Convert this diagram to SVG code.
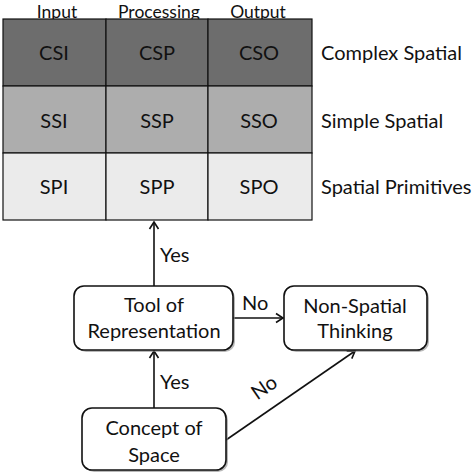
<svg xmlns="http://www.w3.org/2000/svg" width="474" height="474" viewBox="0 0 474 474">
<style>
text{font-family:"Lato","Open Sans","Liberation Sans",sans-serif;font-size:20px;fill:#111}
.c{text-anchor:middle}
.hd{font-size:17.5px}
.box{fill:#fff;stroke:#111;stroke-width:1.6}
.sh{fill:#888;opacity:0.6}
.cell{stroke:#111;stroke-width:1.2}
.ln{stroke:#111;stroke-width:1.6;fill:none}
</style>
<defs>
<marker id="ah" markerWidth="12" markerHeight="12" refX="10" refY="6" orient="auto" markerUnits="userSpaceOnUse">
<path d="M3,1.5 L10,6 L3,10.5" fill="none" stroke="#111" stroke-width="1.6"/>
</marker>
</defs>
<rect width="474" height="474" fill="#fff"/>
<g id="headers">
<text class="c hd" x="57" y="17.5">Input</text>
<text class="c hd" x="159" y="17.5">Processing</text>
<text class="c hd" x="258" y="17.5">Output</text>
</g>
<g id="grid">
<g id="row-complex">
<rect class="cell" x="3" y="19" width="103" height="67" fill="#6d6d6d"/>
<rect class="cell" x="106" y="19" width="102" height="67" fill="#6d6d6d"/>
<rect class="cell" x="208" y="19" width="104" height="67" fill="#6d6d6d"/>
<text class="c" x="54" y="60">CSI</text>
<text class="c" x="157" y="60">CSP</text>
<text class="c" x="259" y="60">CSO</text>
<text x="321" y="60">Complex Spatial</text>
</g>
<g id="row-simple">
<rect class="cell" x="3" y="86" width="103" height="67" fill="#adadad"/>
<rect class="cell" x="106" y="86" width="102" height="67" fill="#adadad"/>
<rect class="cell" x="208" y="86" width="104" height="67" fill="#adadad"/>
<text class="c" x="54" y="128">SSI</text>
<text class="c" x="157" y="128">SSP</text>
<text class="c" x="259" y="128">SSO</text>
<text x="321" y="128">Simple Spatial</text>
</g>
<g id="row-primitives">
<rect class="cell" x="3" y="153" width="103" height="67" fill="#ebebeb"/>
<rect class="cell" x="106" y="153" width="102" height="67" fill="#ebebeb"/>
<rect class="cell" x="208" y="153" width="104" height="67" fill="#ebebeb"/>
<text class="c" x="54" y="194">SPI</text>
<text class="c" x="157" y="194">SPP</text>
<text class="c" x="259" y="194">SPO</text>
<text x="321" y="194">Spatial Primitives</text>
</g>
</g>
<g id="connectors">
<line class="ln" x1="154" y1="286" x2="154" y2="222" marker-end="url(#ah)"/>
<text x="160" y="262">Yes</text>
<line class="ln" x1="233" y1="318" x2="283" y2="318" marker-end="url(#ah)"/>
<text x="242" y="310">No</text>
<line class="ln" x1="154" y1="408" x2="154" y2="351" marker-end="url(#ah)"/>
<text x="160" y="389">Yes</text>
<line class="ln" x1="226" y1="440" x2="355" y2="351" marker-end="url(#ah)"/>
<text class="c" x="0" y="0" transform="translate(268,393) rotate(-34.6)">No</text>
</g>
<g id="tool">
<rect class="sh" x="76" y="288" width="159" height="64" rx="10"/>
<rect class="box" x="74" y="286" width="159" height="64" rx="10"/>
<text class="c" x="154" y="312">Tool of</text>
<text class="c" x="154" y="338">Representation</text>
</g>
<g id="nonspatial">
<rect class="sh" x="286" y="288" width="143" height="64" rx="10"/>
<rect class="box" x="284" y="286" width="143" height="64" rx="10"/>
<text class="c" x="355" y="313">Non-Spatial</text>
<text class="c" x="355" y="338">Thinking</text>
</g>
<g id="concept">
<rect class="sh" x="84" y="410" width="144" height="62" rx="10"/>
<rect class="box" x="82" y="408" width="144" height="62" rx="10"/>
<text class="c" x="154" y="435">Concept of</text>
<text class="c" x="154" y="462">Space</text>
</g>
</svg>
